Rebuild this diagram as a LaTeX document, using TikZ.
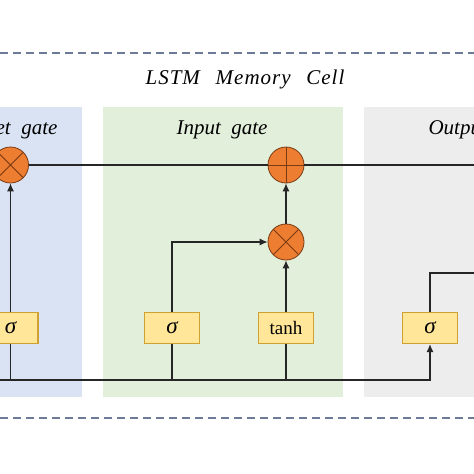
\documentclass[tikz,border=0pt]{standalone}
\usepackage{fontspec}
\setmainfont{Liberation Serif}
\usetikzlibrary{arrows.meta}
\definecolor{panelblue}{HTML}{DAE3F3}
\definecolor{panelgreen}{HTML}{E2EFDA}
\definecolor{panelgray}{HTML}{EDEDED}
\definecolor{boxfill}{HTML}{FFE699}
\definecolor{boxline}{HTML}{D0A030}
\definecolor{opfill}{HTML}{ED7D31}
\definecolor{opline}{HTML}{7A3A12}
\definecolor{frameline}{HTML}{6E7B98}
\newcommand{\sig}{{\fontsize{23}{23}\selectfont\itshape σ}}
\tikzset{
  gatebox/.style={draw=boxline, fill=boxfill, line width=1.3pt, minimum width=55pt, minimum height=31pt, inner sep=0pt, font=\fontsize{19}{19}\selectfont},
  opmul/.style={circle, draw=opline, fill=opfill, line width=0.8pt, minimum size=36pt, inner sep=0pt,
    path picture={\draw[opline, line width=0.8pt] (path picture bounding box.north west) -- (path picture bounding box.south east)
      (path picture bounding box.north east) -- (path picture bounding box.south west);}},
  opadd/.style={circle, draw=opline, fill=opfill, line width=0.8pt, minimum size=36pt, inner sep=0pt,
    path picture={\draw[opline, line width=0.8pt] (path picture bounding box.north) -- (path picture bounding box.south)
      (path picture bounding box.east) -- (path picture bounding box.west);}},
  glabel/.style={font=\fontsize{21}{21}\selectfont\itshape},
  flow/.style={line width=1.1pt, black!85},
  arr/.style={flow, -{Latex[length=8pt,width=7pt]}},
  frame/.style={frameline, line width=1.3pt, dash pattern=on 8pt off 5pt},
}
\begin{document}
\begin{tikzpicture}[x=1pt, y=-1pt]
  \clip (0,0) rectangle (474,474);
  % gate panels
  \fill[panelblue] (-160,107) rectangle (82,397);
  \fill[panelgreen] (103,107) rectangle (343,397);
  \fill[panelgray] (364,107) rectangle (600,397);
  \draw[frame] (0,53) -- (474,53);
  \draw[frame] (0,418) -- (474,418);

  \node[glabel] (ttl) at (245,79) {L\kern1pt S\kern1pt T\kern1pt M~~ M\kern1pt e\kern1pt m\kern1pt o\kern1pt r\kern1pt y~~ C\kern1pt e\kern1pt l\kern1pt l};
  \node[glabel, anchor=east] (fgl) at (61,130) {Forget~~gate};
  \node[glabel] (igl) at (222,130) {Input~~gate};
  \node[glabel, anchor=west] (ogl) at (425,130) {Output~~gate};

  \node[opmul] (fm) at (10.5,165) {};
  \node[opadd] (ad) at (286,165) {};
  \node[opmul] (im) at (286,242) {};
  \node[gatebox] (fs) at (10.5,328) {\sig};
  \node[gatebox] (is) at (172,328) {\sig};
  \node[gatebox] (th) at (286,328) {tanh};
  \node[gatebox] (os) at (430,328) {\sig};
  \coordinate (xin) at (0,380);
  \coordinate (cout) at (474,165);
  \coordinate (hout) at (474,273);

  % cell state
  \draw[flow] (fm) -- (ad);
  \draw[flow] (ad) -- (cout);
  % input line
  \draw[arr] (xin) -| (os.south);
  \draw[flow] (fs.south) -- (fs.south |- xin);
  \draw[flow] (is.south) -- (is.south |- xin);
  \draw[flow] (th.south) -- (th.south |- xin);
  % gates
  \draw[arr] (fs) -- (fm);
  \draw[arr] (is.north) |- (im);
  \draw[arr] (th) -- (im);
  \draw[arr] (im) -- (ad);
  \draw[flow] (os.north) |- (hout);
\end{tikzpicture}
\end{document}
